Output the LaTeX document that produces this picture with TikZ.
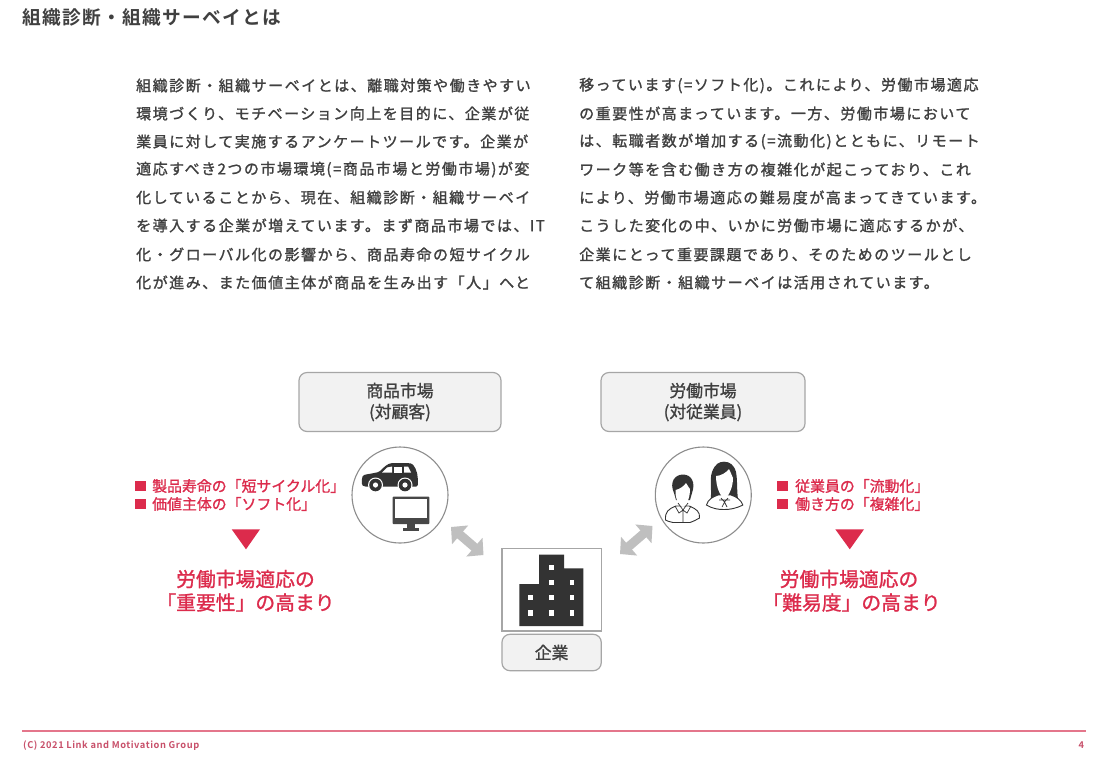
\documentclass[tikz,border=0pt]{standalone}
\usepackage{fontspec}
\usetikzlibrary{arrows.meta}
\setmainfont{Noto Sans CJK JP}
\newfontfamily\bodyf[LetterSpace=10,FakeBold=1.4]{Noto Sans CJK JP}
\newfontfamily\titlef[LetterSpace=7]{Noto Sans CJK JP Bold}
\newfontfamily\plainf[FakeBold=1.2]{Noto Sans CJK JP}
\newfontfamily\footf[LetterSpace=6]{Noto Sans CJK JP Bold}
\definecolor{txt}{HTML}{404040}
\definecolor{redc}{HTML}{DC2B4C}
\definecolor{boxe}{HTML}{A6A6A6}
\definecolor{boxf}{HTML}{F2F2F2}
\definecolor{icon}{HTML}{333333}
\definecolor{arrowc}{HTML}{BFBFBF}
\definecolor{footl}{HTML}{E4768B}
\definecolor{foott}{HTML}{C8506A}
\tikzset{
  x=1pt,y=-1pt,
  bodyline/.style={anchor=west,inner sep=0pt,text=txt,font=\bodyf\fontsize{15}{15}\selectfont},
  titleline/.style={anchor=west,inner sep=0pt,text=txt,font=\titlef\fontsize{18.7}{19}\selectfont},
  marketbox/.style={draw=boxe,line width=1.2pt,fill=boxf,rounded corners=8pt,inner sep=0pt,align=center,text=txt,font=\plainf\fontsize{16.8}{21}\selectfont},
  iconcircle/.style={circle,draw=boxe!85!black,line width=1.1pt,fill=white,minimum size=96pt,inner sep=0pt},
  bullet/.style={fill=redc,draw=none},
  redline/.style={anchor=west,inner sep=0pt,text=redc,font=\plainf\fontsize{14.9}{15}\selectfont},
  redbig/.style={anchor=center,inner sep=0pt,text=redc,font=\plainf\fontsize{19.8}{20}\selectfont},
  blockarrow/.style={draw=arrowc,line width=9pt,{Triangle[width=24pt,length=12pt]}-{Triangle[width=24pt,length=12pt]}},
  footline/.style={anchor=west,inner sep=0pt,text=foott,font=\footf\fontsize{9.3}{10}\selectfont},
}
\begin{document}
\begin{tikzpicture}
\useasboundingbox (0,0) rectangle (1107,756);
\fill[white] (0,0) rectangle (1107,756);

\node[titleline] (title) at (22,17) {組織診断・組織サーベイとは};

\node[bodyline] (l1) at (136,85.5)  {組織診断・組織サーベイとは、離職対策や働きやすい};
\node[bodyline] (l2) at (136,113.5) {環境づくり、モチベーション向上を目的に、企業が従};
\node[bodyline] (l3) at (136,141.5) {業員に対して実施するアンケートツールです。企業が};
\node[bodyline] (l4) at (136,169.5) {適応すべき2つの市場環境(=商品市場と労働市場)が変};
\node[bodyline] (l5) at (136,197.5) {化していることから、現在、組織診断・組織サーベイ};
\node[bodyline] (l6) at (136,225.5) {を導入する企業が増えています。まず商品市場では、IT};
\node[bodyline] (l7) at (136,254.5) {化・グローバル化の影響から、商品寿命の短サイクル};
\node[bodyline] (l8) at (136,282.5) {化が進み、また価値主体が商品を生み出す「人」へと};

\node[bodyline] (r1) at (579,85.5)  {移っています(=ソフト化)。これにより、労働市場適応};
\node[bodyline] (r2) at (579,113.5) {の重要性が高まっています。一方、労働市場において};
\node[bodyline] (r3) at (579,141.5) {は、転職者数が増加する(=流動化)とともに、リモート};
\node[bodyline] (r4) at (579,169.5) {ワーク等を含む働き方の複雑化が起こっており、これ};
\node[bodyline] (r5) at (579,197.5) {により、労働市場適応の難易度が高まってきています。};
\node[bodyline] (r6) at (579,225.5) {こうした変化の中、いかに労働市場に適応するかが、};
\node[bodyline] (r7) at (579,254.5) {企業にとって重要課題であり、そのためのツールとし};
\node[bodyline] (r8) at (579,282.5) {て組織診断・組織サーベイは活用されています。};

\node[marketbox,minimum width=202pt,minimum height=59pt] (m1) at (400,402) {商品市場\\(対顧客)};
\node[marketbox,minimum width=204pt,minimum height=59pt] (m2) at (703,402) {労働市場\\(対従業員)};

\node[iconcircle] (c1) at (400,495) {};
\node[iconcircle] (c2) at (703.3,495) {};

% car
\fill[icon,rounded corners=1.5pt] (361.7,485) -- (362,478) .. controls (363,475) and (365,474.5) .. (369,474) -- (379,472) .. controls (384,467) and (388,463.2) .. (393,463.2) -- (409,463.2) .. controls (414,463.5) and (417.8,472) .. (417.8,480) -- (417.8,486.5) -- (364,486.5) -- cycle;
\fill[white] (382,472.5) -- (387,467.5) -- (392,466.5) -- (392,472.5) -- cycle;
\fill[white] (394,466.5) -- (402,466.5) -- (402,472.5) -- (394,472.5) -- cycle;
\fill[white] (404,466.5) -- (408,466.5) -- (411,472.5) -- (404,472.5) -- cycle;
\foreach \wx in {375.5,405}{
  \fill[white] (\wx,485) circle (7.5pt);
  \fill[icon] (\wx,485) circle (6.3pt);
  \fill[white] (\wx,485) circle (2.6pt);
}
% monitor
\fill[icon!90!white,rounded corners=0.8pt] (392.5,496.7) rectangle (429.3,524);
\fill[white] (395,499.3) rectangle (426.7,518.3);
\fill[icon!90!white] (407.3,524) rectangle (415,528.3);
\fill[icon!90!white] (402.7,528.3) rectangle (419.3,530.7);

% man
\draw[icon,line width=0.9pt,fill=white] (665.5,520) .. controls (665,512) and (668,509) .. (676,506) -- (689,506) .. controls (697,509) and (700,512) .. (699.5,518) .. controls (696,520) and (694,521) .. (690,522.5) -- (673,522.5) .. controls (670,522) and (667,521) .. (665.5,520) -- cycle;
\fill[icon] (674,493) .. controls (669,482) and (675,474.5) .. (683,474.5) .. controls (691,474.5) and (696,482) .. (692,493) -- (690,500) -- (676,500) -- cycle;
\fill[white] (675.5,490) .. controls (680,489) and (684,486) .. (686,483) .. controls (688,486) and (689,488) .. (690,489) .. controls (690,499) and (686,506) .. (683,507) .. controls (679,506) and (675,499) .. (675.5,490) -- cycle;
\draw[icon,line width=0.7pt] (678,503) -- (683,510) -- (688,503) (683,510) -- (679,513) -- (675,506) (683,510) -- (687,513) -- (691,506) (683,510) -- (683,522);
% woman
\fill[icon] (709.5,505) .. controls (713,495) and (709,480) .. (712,472) .. controls (715,464) and (719,461.7) .. (724,461.7) .. controls (730,461.7) and (734,465) .. (736,472) .. controls (738,482) and (736,495) .. (739.5,505) -- (732,509) -- (716,509) -- cycle;
\draw[icon,line width=0.9pt,fill=white] (706.5,505) .. controls (708,499) and (713,497) .. (718,495) -- (731,495) .. controls (737,497) and (741,500) .. (742.8,505) .. controls (736,508.5) and (730,509.5) .. (724,509.5) .. controls (718,509.5) and (712,508.5) .. (706.5,505) -- cycle;
\fill[white] (716,476) .. controls (721,476) and (727,472) .. (729,469) .. controls (731,473) and (732,476) .. (733,478) .. controls (733,487) and (729,496) .. (724.5,499) .. controls (720,496) and (716,487) .. (716,476) -- cycle;
\draw[icon,line width=0.7pt] (721,498) -- (724.5,502) -- (728,498) (724.5,502) -- (722,507) (724.5,502) -- (727,507) (719,500) -- (730,500);

% company
\node[draw=boxe,line width=1.1pt,fill=white,minimum width=99.3pt,minimum height=82.3pt,inner sep=0pt] (bldg) at (551.6,589.8) {};
\node[marketbox,minimum width=99.3pt,minimum height=36.4pt] (co) at (551.6,652.5) {企業};
\fill[icon] (519.3,584) -- (539,584) -- (539,554.7) -- (564,554.7) -- (564,568.3) -- (583.3,568.3) -- (583.3,626) -- (519.3,626) -- cycle;
\foreach \wx/\wy in {551.3/567.3,551.3/582.3,572/582.3,530.7/597.7,551.3/597.7,572/597.7,530.7/613,551.3/613,572/613}{
  \fill[white] (\wx-2.3,\wy-2.6) rectangle (\wx+2.3,\wy+2.6);
}

% double arrows
\coordinate (a1s) at (451,527);
\coordinate (a1e) at (483.5,555);
\coordinate (a2s) at (620,554);
\coordinate (a2e) at (652.5,526);
\draw[blockarrow] (a1s) -- (a1e);
\draw[blockarrow] (a2s) -- (a2e);

% left red block
\fill[bullet] (135,481) rectangle (145.5,491);
\fill[bullet] (135,499) rectangle (145.5,509);
\node[redline] (t1) at (152,486) {製品寿命の「短サイクル化」};
\node[redline] (t2) at (152,504) {価値主体の「ソフト化」};
\fill[redc] (231.7,529.3) -- (260,529.3) -- (246,549.3) -- cycle;
\node[redbig] (b1) at (245.5,579) {労働市場適応の};
\node[redbig] (b2) at (245.5,602.5) {「重要性」の高まり};

% right red block
\fill[bullet] (777,481) rectangle (788,491);
\fill[bullet] (777,499) rectangle (788,509);
\node[redline] (t3) at (795,486) {従業員の「流動化」};
\node[redline] (t4) at (795,504) {働き方の「複雑化」};
\fill[redc] (835.3,529.3) -- (864,529.3) -- (849.8,549.3) -- cycle;
\node[redbig] (b3) at (849,579) {労働市場適応の};
\node[redbig] (b4) at (851.5,602.5) {「難易度」の高まり};

% footer
\coordinate (fa) at (22,731);
\coordinate (fb) at (1086,731);
\draw[footl,line width=2pt] (fa) -- (fb);
\node[footline] (ft) at (23,745.5) {(C) 2021 Link and Motivation Group};
\node[footline] (pg) at (1078.5,745.5) {4};
\end{tikzpicture}
\end{document}
